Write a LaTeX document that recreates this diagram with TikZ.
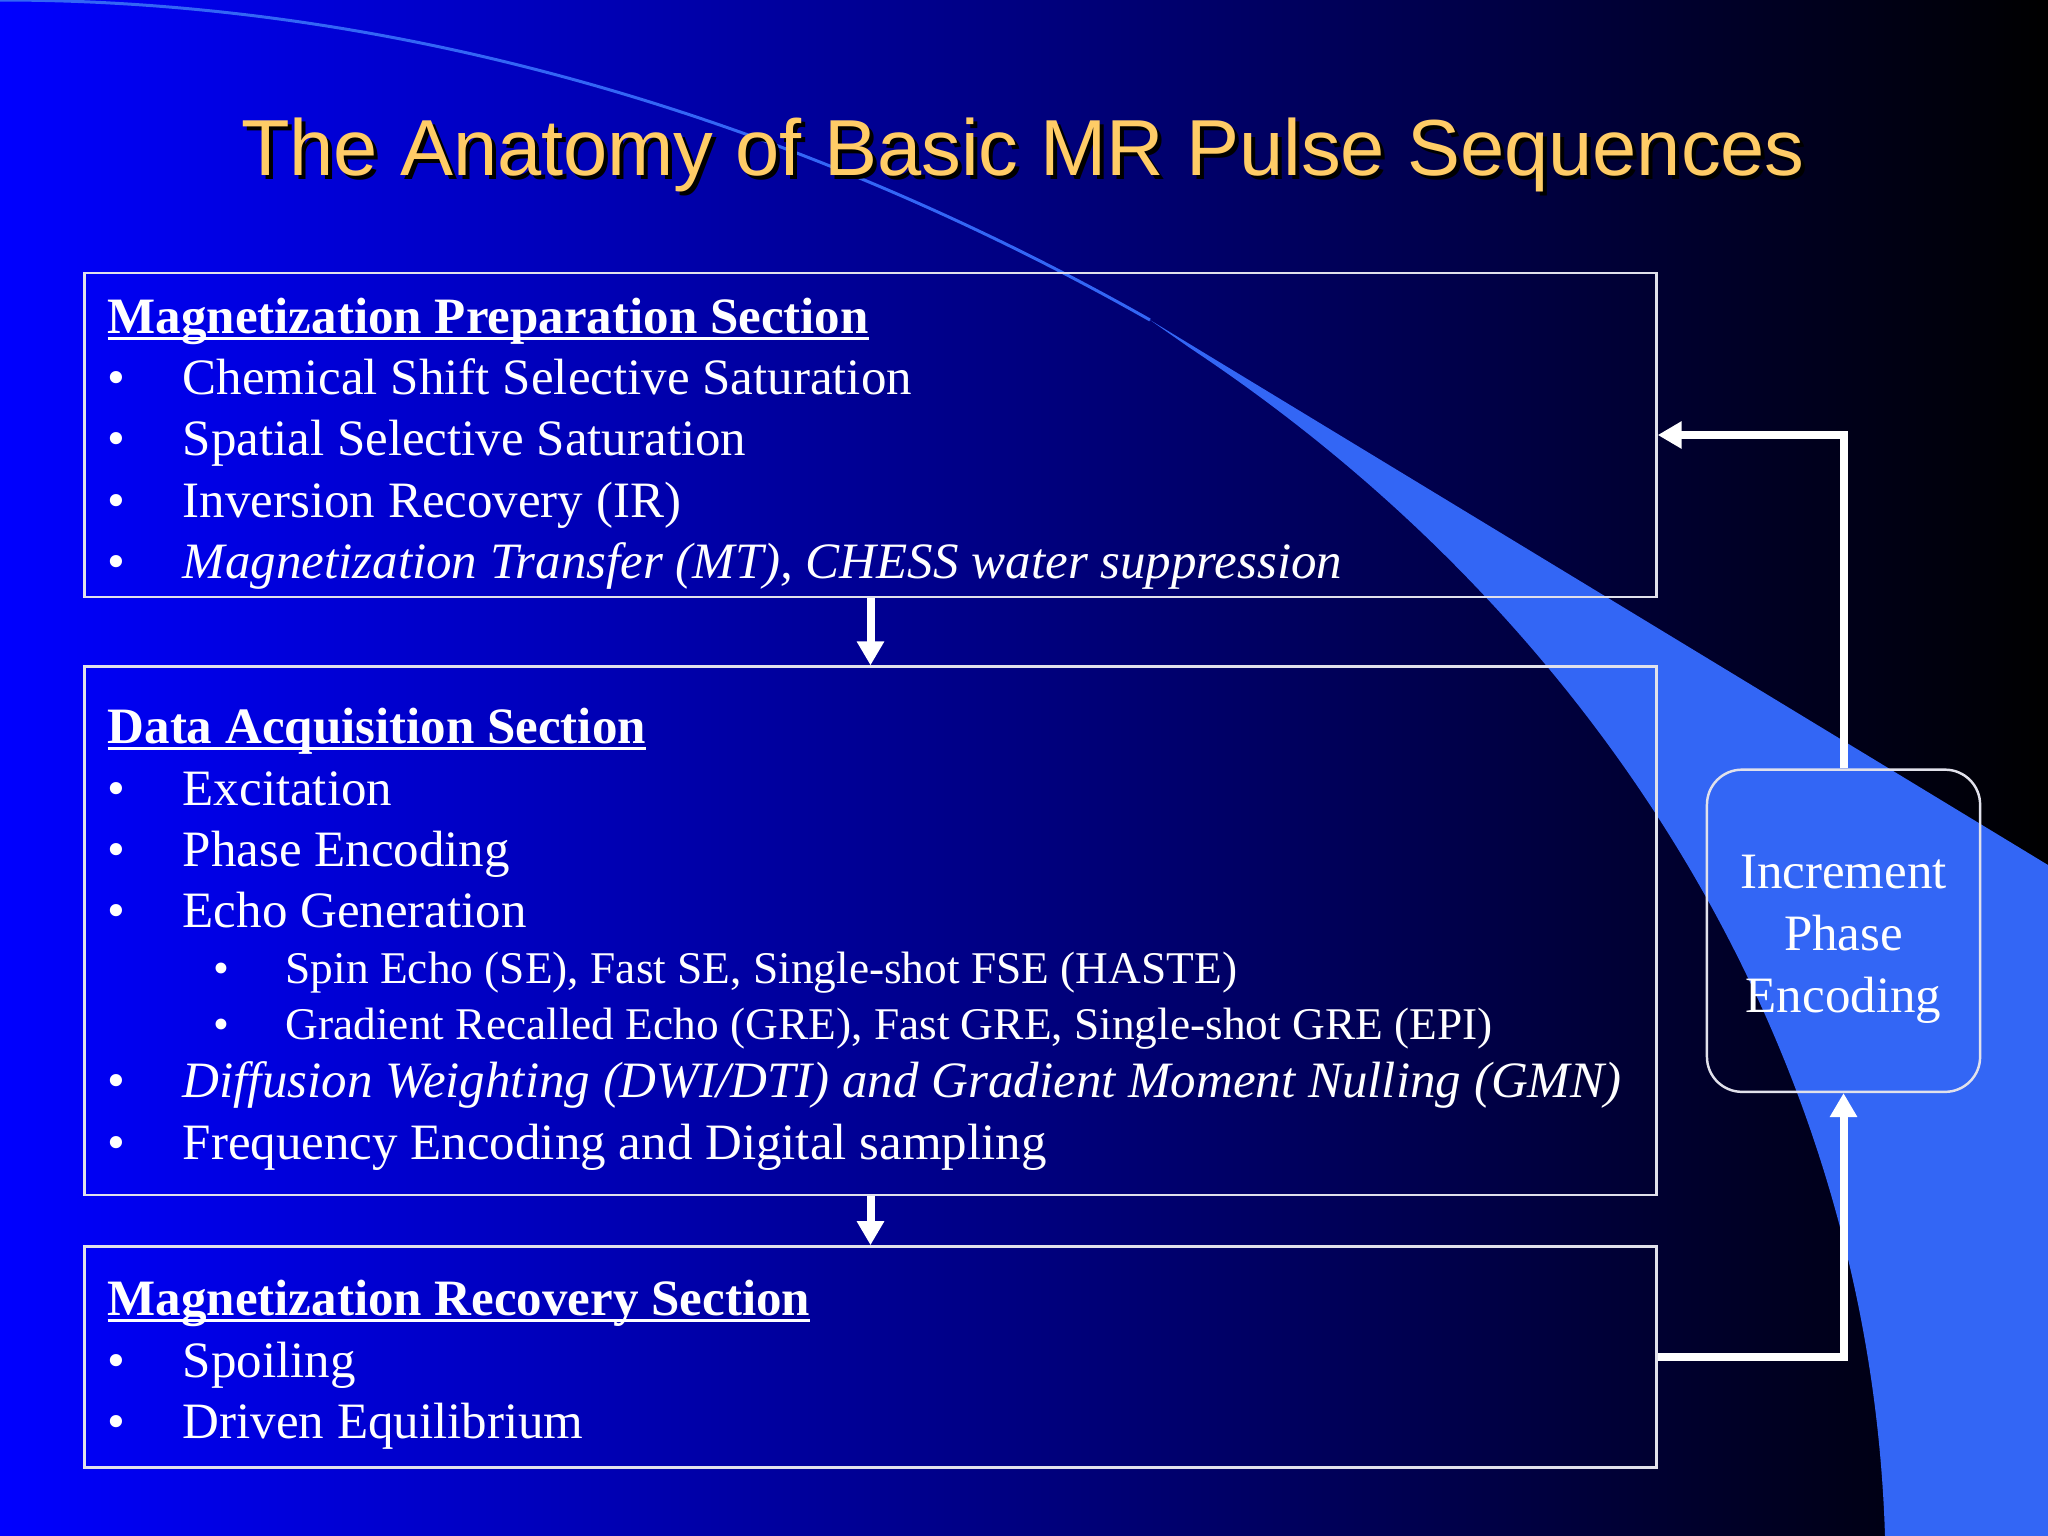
\documentclass[tikz,border=0pt]{standalone}
\usepackage{fontspec}
\setmainfont{Liberation Serif}
\newfontfamily\titlefont{Liberation Sans}
\usetikzlibrary{arrows.meta, positioning}
\definecolor{SlideBlue}{RGB}{0,0,255}
\definecolor{SwooshBlue}{RGB}{51,102,245}
\definecolor{TitleGold}{RGB}{255,204,102}
\definecolor{FrameGray}{RGB}{225,225,235}
\newcommand{\sectitle}[1]{\setbox0\hbox{\bfseries #1}\rlap{\rule[-0.13em]{\wd0}{0.06em}}\box0}
\newcommand{\bul}{\makebox[0.75cm][l]{\textbullet}}
\newcommand{\subbul}{\makebox[0.72cm][l]{\textbullet}}

\begin{document}
\begin{tikzpicture}[x=0.01cm, y=-0.01cm,
	seccion/.style={rectangle, draw=FrameGray, line width=0.7pt, minimum width=15.71cm, inner sep=0pt},
	item/.style={text=white, inner sep=0pt, anchor=base west, font=\fontsize{14.5}{17.4}\selectfont},
	subitem/.style={item, font=\fontsize{12.9}{15.5}\selectfont},
	titulo/.style={inner sep=0pt, anchor=base, font=\titlefont\fontsize{22.6}{26}\selectfont},
	flecha/.style={-{Triangle[width=0.26cm, length=0.24cm]}, line width=0.08cm, white}]
	\useasboundingbox (0,0) rectangle (2048,1536);
	\shade[left color=SlideBlue, right color=black] (0,0) rectangle (2048,1536);
	\draw[SwooshBlue, line width=0.03cm] (0,0) .. controls (450,0) and (850,150) .. (1150,320);
	\fill[SwooshBlue] (1150,320) -- (2048,865) -- (2048,1536) -- (1885,1536) .. controls (1870,1050) and (1600,620) .. (1190,348) -- cycle;

	\node[titulo, text=black] (sombra) at (1027,179) {The Anatomy of Basic MR Pulse Sequences};
	\node[titulo, text=TitleGold] (titulo) at (1023,175) {The Anatomy of Basic MR Pulse Sequences};

	\node[seccion, minimum height=3.24cm] (prep) at (870.5,435) {};
	\node[seccion, minimum height=5.28cm, below=0.67cm of prep] (adq) {};
	\node[seccion, minimum height=2.21cm, below=0.49cm of adq] (recup) {};
	\node[rectangle, draw=FrameGray, line width=0.7pt, rounded corners=0.35cm, minimum width=2.73cm, minimum height=3.22cm,
		right=0.48cm of adq, align=center, text=white, font=\fontsize{14.5}{17.6}\selectfont] (incr) {\rule{0pt}{0.98em}Increment\\Phase\\Encoding};

	\node[item] (prep0) at (107,333) {\sectitle{Magnetization Preparation Section}};
	\node[item] (prep1) at (107,394) {\bul Chemical Shift Selective Saturation};
	\node[item] (prep2) at (107,455) {\bul Spatial Selective Saturation};
	\node[item] (prep3) at (107,517) {\bul Inversion Recovery (IR)};
	\node[item] (prep4) at (107,578) {\bul\textit{Magnetization Transfer (MT), CHESS water suppression}};

	\node[item] (adq0) at (107,743) {\sectitle{Data Acquisition Section}};
	\node[item] (adq1) at (107,805) {\bul Excitation};
	\node[item] (adq2) at (107,866) {\bul Phase Encoding};
	\node[item] (adq3) at (107,927) {\bul Echo Generation};
	\node[subitem] (adq4) at (213,983) {\subbul Spin Echo (SE), Fast SE, Single-shot FSE (HASTE)};
	\node[subitem] (adq5) at (213,1039) {\subbul Gradient Recalled Echo (GRE), Fast GRE, Single-shot GRE (EPI)};
	\node[item] (adq6) at (107,1097) {\bul\textit{Diffusion Weighting (DWI/DTI) and Gradient Moment Nulling (GMN)}};
	\node[item] (adq7) at (107,1159) {\bul Frequency Encoding and Digital sampling};

	\node[item] (recup0) at (107,1315) {\sectitle{Magnetization Recovery Section}};
	\node[item] (recup1) at (107,1377) {\bul Spoiling};
	\node[item] (recup2) at (107,1438) {\bul Driven Equilibrium};

	\draw[flecha] (prep) -- (adq);
	\draw[flecha] (adq) -- (recup);
	\draw[flecha] (recup.east) -| (incr.south);
	\draw[flecha] (incr.north) |- (prep.east);
\end{tikzpicture}
\end{document}
